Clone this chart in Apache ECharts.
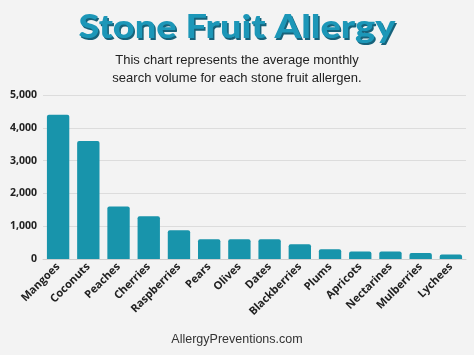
<!DOCTYPE html>
<html><head><meta charset="utf-8">
<script src="https://cdn.jsdelivr.net/npm/echarts@6/dist/echarts.min.js"></script>
<style>html,body{margin:0;padding:0;background:#f3f3f3;}#c{width:474px;height:355px;}</style>
</head><body><div id="c"></div>
<script>
const categories = ['Mangoes','Coconuts','Peaches','Cherries','Raspberries','Pears','Olives','Dates','Blackberries','Plums','Apricots','Nectarines','Mulberries','Lychees'];
const searchVolume = [4400, 3600, 1600, 1300, 880, 600, 600, 600, 450, 300, 230, 230, 180, 140];
const yTicks = [0, 1000, 2000, 3000, 4000, 5000];

const titleText = 'Stone Fruit Allergy';
const subtitleLines = ['This chart represents the average monthly', 'search volume for each stone fruit allergen.'];
const footerText = 'AllergyPreventions.com';

const titleFont = {fontFamily: 'Lato', fontWeight: 900, fontSize: 33, textAlign: 'center', textVerticalAlign: 'top', x: 0, y: 0};
const subFont = {fontFamily: 'Liberation Sans', fontWeight: 'normal', fontSize: 13};

const chart = echarts.init(document.getElementById('c'), null, {renderer:'canvas'});
chart.setOption({
  backgroundColor: '#f3f3f3',
  animation: false,
  graphic: [
    {type: 'text', x: 238.5, y: 12.5, scaleX: 1.15, z: 10, style: Object.assign({text: titleText, fill: '#17627a'}, titleFont)},
    {type: 'text', x: 237, y: 11, scaleX: 1.15, z: 11, style: Object.assign({text: titleText, fill: '#1c97b8'}, titleFont)},
    {type: 'text', left: 'center', top: 54, style: Object.assign({text: subtitleLines[0], fill: '#222'}, subFont)},
    {type: 'text', left: 'center', top: 72, style: Object.assign({text: subtitleLines[1], fill: '#222'}, subFont)},
    {type: 'text', left: 'center', top: 333, style: {text: footerText, fill: '#333', fontFamily: 'Liberation Sans', fontSize: 12.5}}
  ],
  grid: {left: 43, right: 8, top: 95, bottom: 96},
  xAxis: {
    type: 'category', data: categories,
    axisLine: {show: true, lineStyle: {color: '#cfcfcf'}},
    axisTick: {show: false},
    axisLabel: {interval: 0, rotate: 45, fontFamily: 'Open Sans', fontWeight: 'bold', fontSize: 11, color: '#222', margin: 6}
  },
  yAxis: {
    type: 'value', min: 0, max: 5000, interval: 1000,
    axisLine: {show: false}, axisTick: {show: false},
    splitLine: {lineStyle: {color: '#dcdcdc', width: 1}},
    axisLabel: {fontFamily: 'Open Sans', fontWeight: 'bold', fontSize: 10.5, color: '#222', margin: 6,
      formatter: v => yTicks.includes(v) ? v.toLocaleString('en-US') : ''}
  },
  series: [{
    type: 'bar', data: searchVolume, barWidth: '74%',
    itemStyle: {color: '#1894ab', borderRadius: [2,2,0,0]}
  }]
});
</script></body></html>
